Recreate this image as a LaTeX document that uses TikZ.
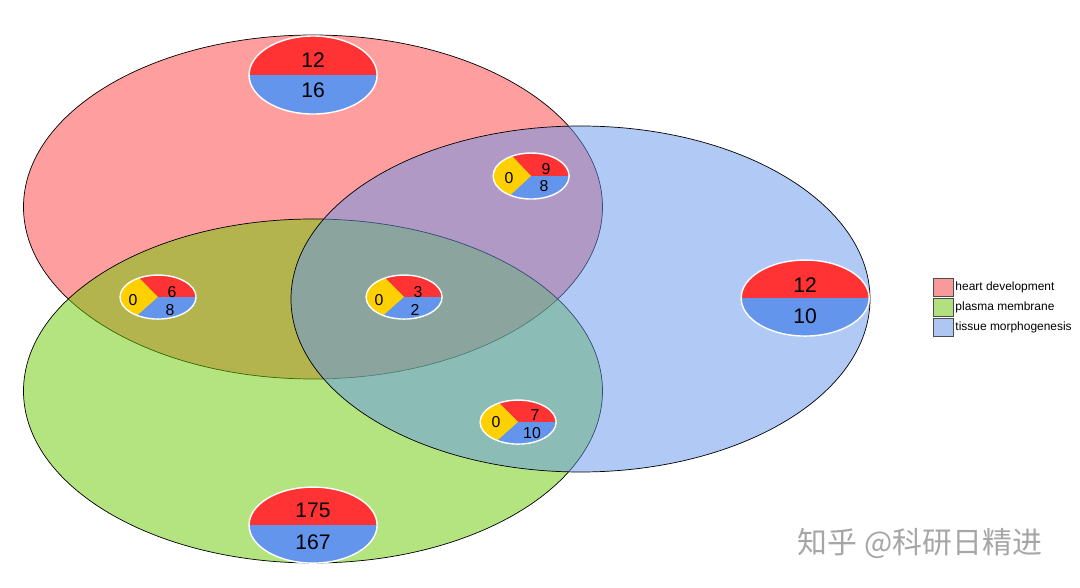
\documentclass[tikz,border=0pt]{standalone}
\usepackage{fontspec}
\setmainfont{Liberation Sans}
\newfontfamily\cjk{Noto Sans CJK SC}
\definecolor{cR}{HTML}{FF3F3F}
\definecolor{cG}{HTML}{6BCB00}
\definecolor{cB}{HTML}{6495ED}
\definecolor{pR}{HTML}{FF3333}
\definecolor{pB}{HTML}{6495ED}
\definecolor{pY}{HTML}{FFD000}
\definecolor{lR}{HTML}{F99A9A}
\definecolor{lG}{HTML}{B2E080}
\definecolor{lB}{HTML}{AEC6F0}
\newcommand\twopie[4]{% x y rx ry
 \begin{scope}[shift={(#1*0.02,-#2*0.02)},xscale=#3*0.02,yscale=#4*0.02]
  \fill[pR] (0:1) arc (0:180:1) -- cycle;
  \fill[pB] (180:1) arc (180:360:1) -- cycle;
  \draw[white,line width=0.8pt] (0,0) circle (1);
 \end{scope}}
\newcommand\threepie[4]{% x y rx ry
 \begin{scope}[shift={(#1*0.02,-#2*0.02)},xscale=#3*0.02,yscale=#4*0.02]
  \fill[pR] (0,0) -- (0:1) arc (0:120:1) -- cycle;
  \fill[pY] (0,0) -- (120:1) arc (120:237:1) -- cycle;
  \fill[pB] (0,0) -- (237:1) arc (237:360:1) -- cycle;
  \draw[white,line width=0.8pt] (0,0) circle (1);
 \end{scope}}
\tikzset{big/.style={font=\fontsize{12}{12}\selectfont},
 small/.style={font=\fontsize{9}{10}\selectfont},
 venn/.style={draw=black,line width=0.4pt,fill opacity=0.5},
 leg/.style={draw=black!70,minimum width=0.4cm,minimum height=0.36cm,inner sep=0pt},
 legt/.style={anchor=west,font=\fontsize{6.8}{8}\selectfont,inner sep=1pt}}
\begin{document}
\begin{tikzpicture}
\useasboundingbox (0,0) rectangle (21.6,-11.76);
\fill[white] (0,0) rectangle (21.6,-11.76);
\path[venn,fill=cR] (6.26,-4.14) ellipse (5.79 and 3.44);
\path[venn,fill=cG] (6.26,-7.82) ellipse (5.79 and 3.44);
\path[venn,fill=cB] (11.61,-5.98) ellipse (5.79 and 3.46);
\twopie{313}{75}{64}{39}
\node[big] (a1) at (6.26,-1.2) {12};
\node[big] (a2) at (6.26,-1.8) {16};
\twopie{805}{298}{64}{38}
\node[big] (b1) at (16.1,-5.7) {12};
\node[big] (b2) at (16.1,-6.32) {10};
\twopie{313}{525}{64}{38}
\node[big] (c1) at (6.26,-10.2) {175};
\node[big] (c2) at (6.26,-10.84) {167};
\threepie{531}{176}{38}{23}
\node[small] (d0) at (10.18,-3.57) {0};
\node[small] (d1) at (10.92,-3.39) {9};
\node[small] (d2) at (10.88,-3.73) {8};
\threepie{158}{297}{38}{22}
\node[small] (e0) at (2.66,-6.0) {0};
\node[small] (e1) at (3.44,-5.85) {6};
\node[small] (e2) at (3.40,-6.2) {8};
\threepie{404}{297}{38}{22}
\node[small] (f0) at (7.58,-6.0) {0};
\node[small] (f1) at (8.36,-5.85) {3};
\node[small] (f2) at (8.30,-6.2) {2};
\threepie{518}{422}{38}{22}
\node[small] (g0) at (9.92,-8.45) {0};
\node[small] (g1) at (10.7,-8.3) {7};
\node[small] (g2) at (10.64,-8.66) {10};
\node[leg,fill=lR] (l1) at (18.86,-5.74) {};
\node[leg,fill=lG] (l2) at (18.86,-6.14) {};
\node[leg,fill=lB] (l3) at (18.86,-6.54) {};
\node[legt] (t1) at (l1.east) {heart development};
\node[legt] (t2) at (l2.east) {plasma membrane};
\node[legt] (t3) at (l3.east) {tissue morphogenesis};
\node[text=black!35,font=\cjk\fontsize{17}{17}\selectfont] (wm) at (18.4,-10.88) {知乎 @科研日精进};
\end{tikzpicture}
\end{document}
